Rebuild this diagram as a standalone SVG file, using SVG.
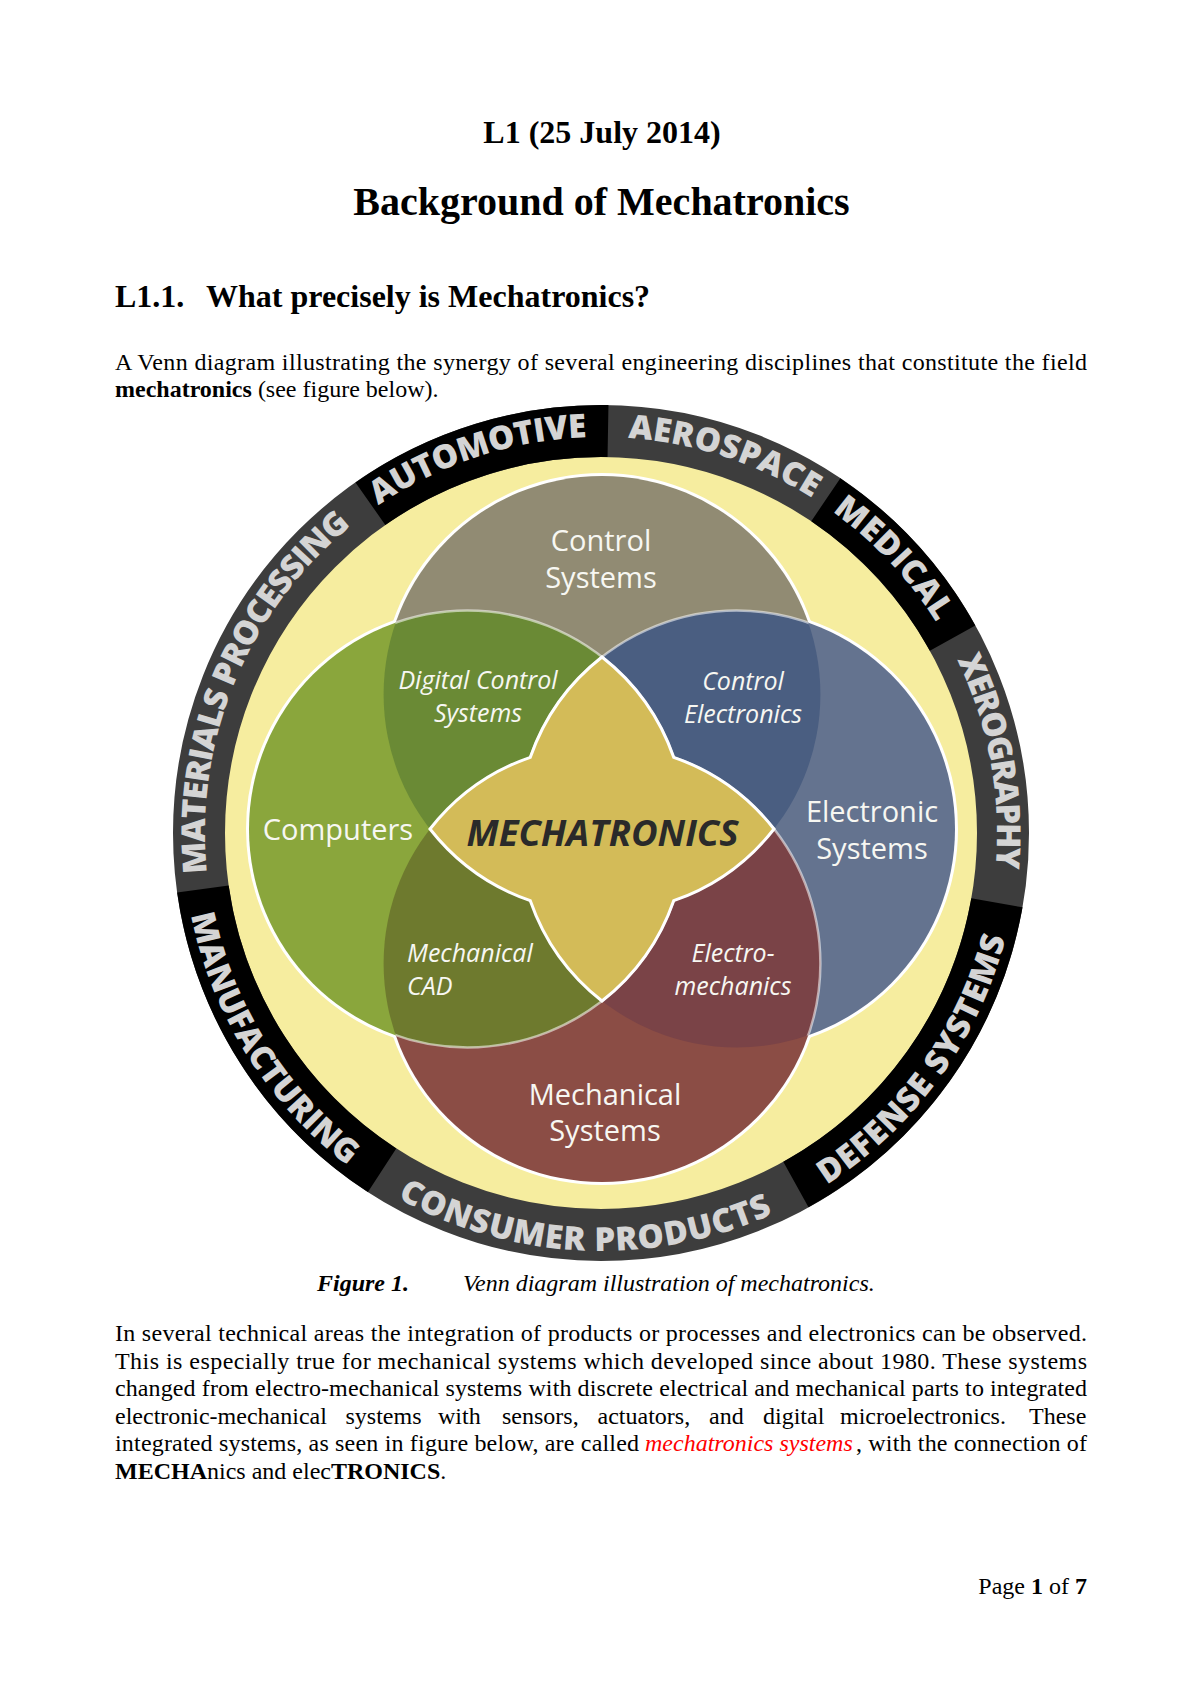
<svg xmlns="http://www.w3.org/2000/svg" width="1200" height="1697" viewBox="0 0 1200 1697">
<defs>
<style>
.serif{font-family:"Liberation Serif","Times New Roman",serif;fill:#000;font-size:24px}
.b{font-weight:700}
.i{font-style:italic}
.ring{font-family:"Open Sans","DejaVu Sans",sans-serif;font-weight:800;font-size:33px;fill:#d4d4d4}
.venn{font-family:"Open Sans","DejaVu Sans",sans-serif;fill:#f7f7f2;text-anchor:middle}
.big{font-size:29px}
.it{font-size:25px;font-style:italic}
.seg{fill:none;stroke:#000;stroke-width:52}
.under{fill:none;stroke:#fff;stroke-width:6}
.inner{fill:none;stroke:#fff;stroke-opacity:0.55;stroke-width:2.5}
</style>
<clipPath id="cT"><circle cx="602" cy="694.4" r="218.4"/></clipPath>
<clipPath id="cL"><circle cx="467.4" cy="829" r="218.4"/></clipPath>
<clipPath id="cR"><circle cx="736.6" cy="829" r="218.4"/></clipPath>
<clipPath id="cB"><circle cx="602" cy="963.6" r="218.4"/></clipPath>
<path id="pCW" d="M601,1229 A396,396 0 1 1 601,437 A396,396 0 1 1 601,1229"/>
<path id="pCCW" d="M601,415 A418,418 0 1 0 601,1251 A418,418 0 1 0 601,415"/>
</defs>
<rect width="1200" height="1697" fill="#fff"/>

<g id="header">
<text class="serif b" x="602" y="143" text-anchor="middle" style="font-size:32px">L1 (25 July 2014)</text>
<text class="serif b" x="601.5" y="215" text-anchor="middle" style="font-size:40px">Background of Mechatronics</text>
<text class="serif b" x="115" y="307" style="font-size:32px">L1.1.</text>
<text class="serif b" x="206" y="307" style="font-size:32px">What precisely is Mechatronics?</text>
<text class="serif" x="115" y="370" textLength="972" lengthAdjust="spacing">A Venn diagram illustrating the synergy of several engineering disciplines that constitute the field</text>
<text class="serif" x="115" y="397"><tspan class="b">mechatronics</tspan> (see figure below).</text>
</g>

<g id="figure">
<circle cx="601" cy="833" r="378" fill="#f6ed9f"/>
<g id="ring">
<circle cx="601" cy="833" r="402" fill="none" stroke="#3d3d3d" stroke-width="52"/>
<path class="seg" d="M825.8,499.7 A402,402 0 0 1 952.6,638.1"/>
<path class="seg" d="M996.9,902.8 A402,402 0 0 1 795.9,1184.6"/>
<path class="seg" d="M382.1,1170.2 A402,402 0 0 1 202.9,889.0"/>
<path class="seg" d="M370.4,503.7 A402,402 0 0 1 608.0,431.1"/>
</g>
<g id="ring-labels">
<text class="ring"><textPath href="#pCW" startOffset="1118.3" text-anchor="middle" textLength="222" lengthAdjust="spacing">AUTOMOTIVE</textPath></text>
<text class="ring"><textPath href="#pCW" startOffset="1368.5" text-anchor="middle" textLength="196" lengthAdjust="spacing">AEROSPACE</textPath></text>
<text class="ring"><textPath href="#pCW" startOffset="1566.8" text-anchor="middle" textLength="153" lengthAdjust="spacing">MEDICAL</textPath></text>
<text class="ring"><textPath href="#pCW" startOffset="1793.5" text-anchor="middle" textLength="215" lengthAdjust="spacing">XEROGRAPHY</textPath></text>
<text class="ring"><textPath href="#pCW" startOffset="777.5" text-anchor="middle" textLength="392" lengthAdjust="spacing">MATERIALS PROCESSING</textPath></text>
<text class="ring"><textPath href="#pCCW" startOffset="1707.2" text-anchor="middle" textLength="312" lengthAdjust="spacing">DEFENSE SYSTEMS</textPath></text>
<text class="ring"><textPath href="#pCCW" startOffset="1295" text-anchor="middle" textLength="390" lengthAdjust="spacing">CONSUMER PRODUCTS</textPath></text>
<text class="ring"><textPath href="#pCCW" startOffset="890.1" text-anchor="middle" textLength="302" lengthAdjust="spacing">MANUFACTURING</textPath></text>
</g>

<g id="venn-outline">
<circle class="under" cx="602" cy="694.4" r="218.4"/>
<circle class="under" cx="467.4" cy="829" r="218.4"/>
<circle class="under" cx="736.6" cy="829" r="218.4"/>
<circle class="under" cx="602" cy="963.6" r="218.4"/>
</g>
<g id="control-systems"><circle cx="602" cy="694.4" r="218.4" fill="#918b73"/></g>
<g id="electronic-systems"><circle cx="736.6" cy="829" r="218.4" fill="#64738f"/></g>
<g id="mechanical-systems"><circle cx="602" cy="963.6" r="218.4" fill="#8b4d45"/></g>
<g id="computers"><circle cx="467.4" cy="829" r="218.4" fill="#8aa63c"/></g>
<g id="digital-control-systems" clip-path="url(#cT)"><circle cx="467.4" cy="829" r="218.4" fill="#6a8a35"/></g>
<g id="control-electronics" clip-path="url(#cT)"><circle cx="736.6" cy="829" r="218.4" fill="#4a5e81"/></g>
<g id="mechanical-cad" clip-path="url(#cB)"><circle cx="467.4" cy="829" r="218.4" fill="#6e7a2e"/></g>
<g id="electro-mechanics" clip-path="url(#cB)"><circle cx="736.6" cy="829" r="218.4" fill="#7a4347"/></g>
<g id="inner-lines">
<g clip-path="url(#cT)"><circle class="inner" cx="467.4" cy="829" r="218.4"/><circle class="inner" cx="736.6" cy="829" r="218.4"/></g>
<g clip-path="url(#cB)"><circle class="inner" cx="467.4" cy="829" r="218.4"/></g>
<g clip-path="url(#cR)"><circle class="inner" cx="602" cy="963.6" r="218.4"/></g>
</g>
<g id="mechatronics">
<path d="M602,657 A218.4,218.4 0 0 0 530.3,757.3 A218.4,218.4 0 0 0 430,829 A218.4,218.4 0 0 0 530.3,900.7 A218.4,218.4 0 0 0 602,1001 A218.4,218.4 0 0 0 673.7,900.7 A218.4,218.4 0 0 0 774,829 A218.4,218.4 0 0 0 673.7,757.3 A218.4,218.4 0 0 0 602,657 Z" fill="#d3bb58" stroke="#fff" stroke-width="3"/>
<text x="602.5" y="846" font-family="Open Sans, DejaVu Sans, sans-serif" font-size="35" font-weight="700" font-style="italic" fill="#2a2a2a" text-anchor="middle" textLength="272" lengthAdjust="spacingAndGlyphs">MECHATRONICS</text>
</g>
<g id="venn-labels">
<text class="venn big" x="601" y="551">Control</text>
<text class="venn big" x="601" y="588">Systems</text>
<text class="venn big" x="338" y="840">Computers</text>
<text class="venn big" x="872" y="822">Electronic</text>
<text class="venn big" x="872" y="859">Systems</text>
<text class="venn big" x="605" y="1105">Mechanical</text>
<text class="venn big" x="605" y="1141">Systems</text>
<text class="venn it" x="478" y="689">Digital Control</text>
<text class="venn it" x="478" y="722">Systems</text>
<text class="venn it" x="743" y="690">Control</text>
<text class="venn it" x="743" y="723">Electronics</text>
<text class="venn it" x="407" y="962" style="text-anchor:start">Mechanical</text>
<text class="venn it" x="407" y="995" style="text-anchor:start">CAD</text>
<text class="venn it" x="733" y="962">Electro-</text>
<text class="venn it" x="733" y="995">mechanics</text>
</g>
</g>

<g id="caption">
<text class="serif b i" x="317" y="1291">Figure 1.</text>
<text class="serif i" x="463" y="1291">Venn diagram illustration of mechatronics.</text>
</g>

<g id="body">
<text class="serif" x="115" y="1341" textLength="972" lengthAdjust="spacing">In several technical areas the integration of products or processes and electronics can be observed.</text>
<text class="serif" x="115" y="1368.5" textLength="972" lengthAdjust="spacing">This is especially true for mechanical systems which developed since about 1980. These systems</text>
<text class="serif" x="115" y="1396" textLength="972" lengthAdjust="spacing">changed from electro-mechanical systems with discrete electrical and mechanical parts to integrated</text>
<text class="serif" y="1423.5"><tspan x="115">electronic-mechanical</tspan><tspan x="345.5">systems</tspan><tspan x="438">with</tspan><tspan x="502">sensors,</tspan><tspan x="597.5">actuators,</tspan><tspan x="709">and</tspan><tspan x="763">digital</tspan><tspan x="840">microelectronics.</tspan><tspan x="1029">These</tspan></text>
<text class="serif" x="115" y="1451" textLength="524" lengthAdjust="spacing">integrated systems, as seen in figure below, are called</text>
<text class="serif i" x="645" y="1451" style="fill:#ff0000">mechatronics systems</text>
<text class="serif" x="856" y="1451" textLength="231" lengthAdjust="spacing">, with the connection of</text>
<text class="serif" x="115" y="1478.5"><tspan class="b">MECHA</tspan>nics and elec<tspan class="b">TRONICS</tspan>.</text>
<text class="serif" x="1087" y="1594" text-anchor="end">Page <tspan class="b">1</tspan> of <tspan class="b">7</tspan></text>
</g>
</svg>
